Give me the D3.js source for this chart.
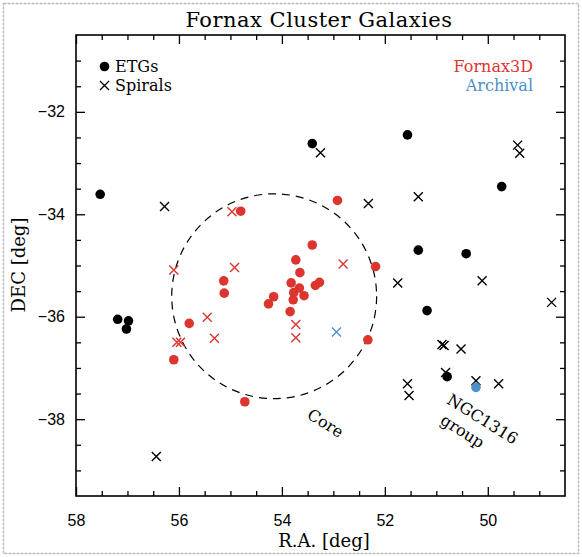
<!DOCTYPE html>
<html>
<head>
<meta charset="utf-8">
<script src="https://cdn.jsdelivr.net/npm/d3@7"></script>
<style>
  body { margin: 0; background: #fff; }
</style>
</head>
<body>
<svg id="chart"></svg>
<script>
// positions in [R.A., DEC] degrees
const etgFornax3D = [
    [54.80, -33.94], [53.73, -34.89], [53.65, -35.14], [53.41, -34.60], [52.92, -33.73],
    [52.18, -35.02], [55.13, -35.30], [55.12, -35.54], [53.82, -35.34], [53.66, -35.44],
    [53.77, -35.53], [53.57, -35.59], [53.78, -35.67], [54.16, -35.61], [54.26, -35.75],
    [53.84, -35.90], [53.35, -35.39], [53.27, -35.33], [55.80, -36.13], [56.10, -36.84],
    [54.72, -37.66], [52.33, -36.45]
];
const spiralFornax3D = [
    [54.97, -33.95], [56.10, -35.09], [54.92, -35.04], [52.81, -34.97], [53.73, -36.15],
    [53.73, -36.41], [55.45, -36.01], [55.31, -36.42], [56.04, -36.50], [55.97, -36.50]
];
const etgArchival = [[50.23, -37.38]];
const spiralArchival = [[52.94, -36.30]];
const etgOther = [
    [57.53, -33.61], [53.41, -32.62], [51.56, -32.45], [49.73, -33.46], [51.35, -34.70],
    [50.42, -34.77], [51.18, -35.88], [50.79, -37.17], [57.19, -36.05], [56.98, -36.08],
    [57.02, -36.24]
];
const spiralOther = [
    [56.28, -33.85], [53.25, -32.80], [49.42, -32.65], [49.38, -32.81], [52.32, -33.79],
    [51.35, -33.66], [51.75, -35.34], [50.11, -35.30], [48.76, -35.72], [50.89, -36.54],
    [50.85, -36.56], [50.52, -36.63], [50.82, -37.09], [50.23, -37.25], [49.79, -37.31],
    [51.56, -37.31], [51.53, -37.54], [56.44, -38.73]
];
const coreCircle = {ra: 54.15, dec: -35.6, r: 2.0};
const raTicks = [58, 56, 54, 52, 50];
const decTicks = [-32, -34, -36, -38];

const width = 582, height = 557;
const margin = {top: 35, right: 17, bottom: 61, left: 76};
const serif = "'DejaVu Serif', serif";
const sans = "'Liberation Sans', Arial, sans-serif";
const red = "#dc3530", blue = "#4d8fc7";

const svg = d3.select("#chart")
    .attr("width", width)
    .attr("height", height)
    .attr("viewBox", [0, 0, width, height]);

// grey outer border
svg.append("rect")
    .attr("x", 3.5).attr("y", 3.5)
    .attr("width", width - 7).attr("height", height - 7)
    .attr("fill", "none")
    .attr("stroke", "#bbb")
    .attr("stroke-width", 1.5)
    .attr("stroke-dasharray", "3,1");

let x = d3.scaleLinear().domain([58, 48.5]).range([margin.left, width - margin.right]);
let y = d3.scaleLinear().domain([-39.5, -30.5]).range([height - margin.bottom, margin.top]);

let minorRa = d3.range(48.5, 58.01, 0.5).filter(v => !raTicks.includes(v) && v > 48.5 && v < 58);
let minorDec = d3.range(-39.5, -30.49, 0.5).filter(v => !decTicks.includes(v) && v > -39.5 && v < -30.5);

function styleAxis(g) {
    g.select(".domain").remove();
    g.selectAll("line").attr("stroke", "#000").attr("stroke-width", 1.3);
}

// major ticks with labels
svg.append("g")
    .attr("transform", `translate(0,${y.range()[0]})`)
    .call(d3.axisBottom(x).tickValues(raTicks).tickSize(-9).tickPadding(19).tickFormat(d3.format("d")))
    .call(styleAxis)
    .selectAll("text").attr("font-family", sans).attr("font-size", 16).attr("fill", "#000");
svg.append("g")
    .attr("transform", `translate(${x.range()[0]},0)`)
    .call(d3.axisLeft(y).tickValues(decTicks).tickSize(-9).tickPadding(11).tickFormat(d3.format("d")))
    .call(styleAxis)
    .selectAll("text").attr("font-family", sans).attr("font-size", 16).attr("fill", "#000");
// mirrored major ticks
svg.append("g")
    .attr("transform", `translate(0,${y.range()[1]})`)
    .call(d3.axisTop(x).tickValues(raTicks).tickSize(-9).tickFormat(""))
    .call(styleAxis);
svg.append("g")
    .attr("transform", `translate(${x.range()[1]},0)`)
    .call(d3.axisRight(y).tickValues(decTicks).tickSize(-9).tickFormat(""))
    .call(styleAxis);
// minor ticks
svg.append("g")
    .attr("transform", `translate(0,${y.range()[0]})`)
    .call(d3.axisBottom(x).tickValues(minorRa).tickSize(-5).tickFormat(""))
    .call(styleAxis);
svg.append("g")
    .attr("transform", `translate(0,${y.range()[1]})`)
    .call(d3.axisTop(x).tickValues(minorRa).tickSize(-5).tickFormat(""))
    .call(styleAxis);
svg.append("g")
    .attr("transform", `translate(${x.range()[0]},0)`)
    .call(d3.axisLeft(y).tickValues(minorDec).tickSize(-5).tickFormat(""))
    .call(styleAxis);
svg.append("g")
    .attr("transform", `translate(${x.range()[1]},0)`)
    .call(d3.axisRight(y).tickValues(minorDec).tickSize(-5).tickFormat(""))
    .call(styleAxis);

// frame
svg.append("rect")
    .attr("x", x.range()[0]).attr("y", y.range()[1])
    .attr("width", x.range()[1] - x.range()[0])
    .attr("height", y.range()[0] - y.range()[1])
    .attr("fill", "none")
    .attr("stroke", "#000")
    .attr("stroke-width", 1.6);

// core circle
svg.append("circle")
    .attr("cx", x(coreCircle.ra))
    .attr("cy", y(coreCircle.dec))
    .attr("r", y(coreCircle.dec - coreCircle.r) - y(coreCircle.dec))
    .attr("fill", "none")
    .attr("stroke", "#000")
    .attr("stroke-width", 1.2)
    .attr("stroke-dasharray", "8,6");

function drawDots(data, color) {
    svg.append("g").selectAll("circle")
        .data(data)
        .join("circle")
        .attr("cx", d => x(d[0]))
        .attr("cy", d => y(d[1]))
        .attr("r", 4.8)
        .attr("fill", color);
}
const cross = "M-4.5,-4.5L4.5,4.5M-4.5,4.5L4.5,-4.5";
function drawCrosses(data, color) {
    svg.append("g").selectAll("path")
        .data(data)
        .join("path")
        .attr("transform", d => `translate(${x(d[0])},${y(d[1])})`)
        .attr("d", cross)
        .attr("stroke", color)
        .attr("stroke-width", 1.4)
        .attr("fill", "none");
}

drawCrosses(spiralOther, "#000");
drawDots(etgOther, "#000");
drawCrosses(spiralFornax3D, red);
drawDots(etgFornax3D, red);
drawCrosses(spiralArchival, blue);
drawDots(etgArchival, blue);

// legends
let lg = svg.append("g").attr("font-family", serif).attr("font-size", 16);
lg.append("circle").attr("cx", 104.5).attr("cy", 66.5).attr("r", 4.8).attr("fill", "#000");
lg.append("text").attr("x", 115).attr("y", 71.5).text("ETGs");
lg.append("path").attr("transform", "translate(104.5,85.5)").attr("d", cross)
    .attr("stroke", "#000").attr("stroke-width", 1.3);
lg.append("text").attr("x", 115).attr("y", 90.5).text("Spirals");
lg.append("text").attr("x", 533).attr("y", 72).attr("text-anchor", "end").attr("fill", red).text("Fornax3D");
lg.append("text").attr("x", 533).attr("y", 91).attr("text-anchor", "end").attr("fill", blue).text("Archival");

// region labels
function regionLabel(px, py, txt) {
    svg.append("text")
        .attr("transform", `translate(${px},${py}) rotate(32)`)
        .attr("text-anchor", "middle")
        .attr("dominant-baseline", "middle")
        .attr("font-family", serif).attr("font-size", 16)
        .text(txt);
}
regionLabel(325, 424, "Core");
regionLabel(482, 420, "NGC1316");
regionLabel(462, 432, "group");

// titles
svg.append("text")
    .attr("x", 319).attr("y", 27)
    .attr("text-anchor", "middle")
    .attr("font-family", serif).attr("font-size", 21)
    .attr("letter-spacing", 0.5)
    .text("Fornax Cluster Galaxies");
svg.append("text")
    .attr("x", 324).attr("y", 547)
    .attr("text-anchor", "middle")
    .attr("font-family", serif).attr("font-size", 18)
    .text("R.A. [deg]");
svg.append("text")
    .attr("transform", "translate(25,265) rotate(-90)")
    .attr("text-anchor", "middle")
    .attr("font-family", serif).attr("font-size", 18)
    .text("DEC [deg]");
</script>
</body>
</html>
